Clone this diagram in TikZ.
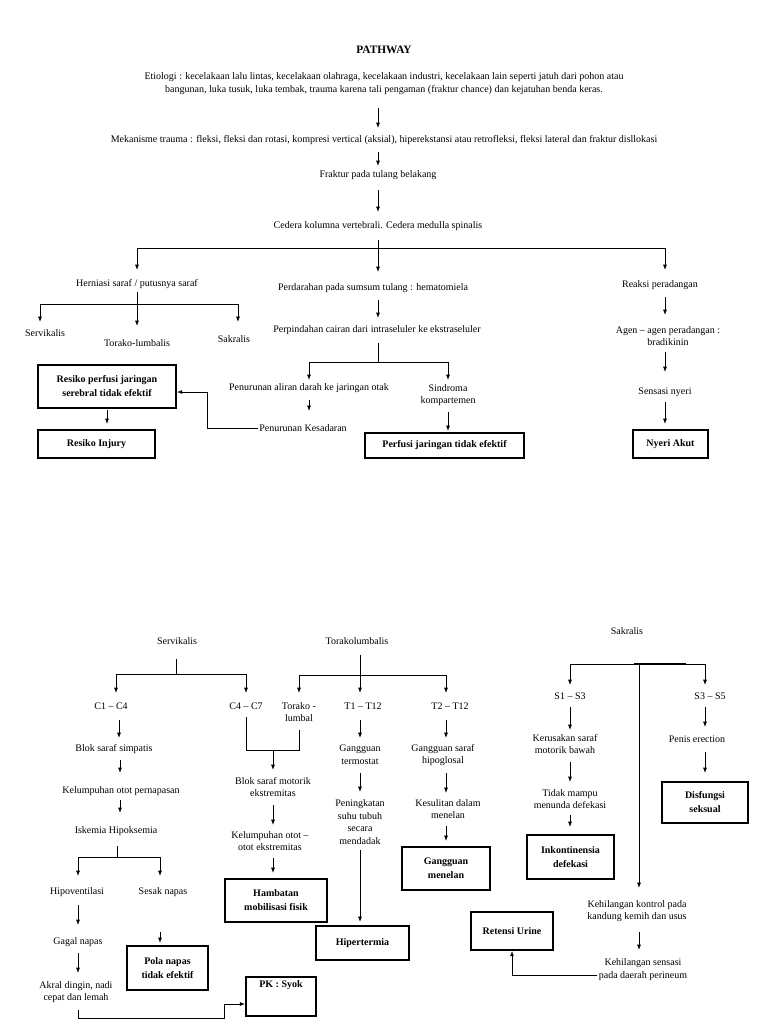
\documentclass[tikz,border=0pt]{standalone}
\usepackage{fontspec}
\setmainfont{Liberation Serif}
\usetikzlibrary{arrows.meta}
\begin{document}
\begin{tikzpicture}[x=0.75pt,y=-0.75pt,
  every node/.style={font=\fontsize{7.5}{9.6}\selectfont,align=center,inner sep=1pt},
  box/.style={draw,line width=1.3pt,font=\fontsize{7.5}{10.5}\selectfont\bfseries,inner sep=0pt},
  arr/.style={-{Latex[length=4pt,width=3pt]},line width=0.6pt},
  ln/.style={line width=0.6pt}]
\useasboundingbox (0,0) rectangle (768,1024);
% ---------- top ----------
\node[font=\fontsize{8.5}{10}\selectfont\bfseries] (title) at (384,50) {PATHWAY};
\node (etio) at (384,84) {Etiologi : kecelakaan lalu lintas, kecelakaan olahraga, kecelakaan industri, kecelakaan lain seperti jatuh dari pohon atau\\bangunan, luka tusuk, luka tembak, trauma karena tali pengaman (fraktur chance) dan kejatuhan benda keras.};
\node (mek) at (384,140) {Mekanisme trauma : fleksi, fleksi dan rotasi, kompresi vertical (aksial), hiperekstansi atau retrofleksi, fleksi lateral dan fraktur disllokasi};
\node (frak) at (378,175) {Fraktur pada tulang belakang};
\node (ced) at (378,226) {Cedera kolumna vertebrali. Cedera medulla spinalis};
\draw[arr] (378,108) -- (378,128);
\draw[arr] (378,152) -- (378,166);
\draw[arr] (378,190) -- (378,212);
\node (hern) at (137,284) {Herniasi saraf / putusnya saraf};
\node (perd) at (373,288) {Perdarahan pada sumsum tulang : hematomiela};
\node (reak) at (660,285) {Reaksi peradangan};
\draw[ln] (378,240) -- (378,248);
\draw[ln] (137,248) -- (665,248);
\draw[arr] (378,248) -- (378,272);
\draw[arr] (137,248) -- (137,270);
\draw[arr] (665,248) -- (665,270);
\node (serv1) at (45,333) {Servikalis};
\node (tor1) at (137,343) {Torako-lumbalis};
\node (sak1) at (234,339) {Sakralis};
\draw[ln] (137,292) -- (137,304);
\draw[ln] (40,304) -- (238,304);
\draw[arr] (40,304) -- (40,322);
\draw[arr] (137,304) -- (137,326);
\draw[arr] (238,304) -- (238,322);
\node (perp) at (377,330) {Perpindahan cairan dari intraseluler ke ekstraseluler};
\draw[arr] (378,300) -- (378,318);
\draw[ln] (378,343) -- (378,362);
\draw[ln] (309,362) -- (448,362);
\draw[arr] (309,362) -- (309,380);
\draw[arr] (448,362) -- (448,380);
\node (pena) at (309,388) {Penurunan aliran darah ke jaringan otak};
\node (sind) at (448,395) {Sindroma\\kompartemen};
\draw[arr] (309,400) -- (309,411);
\node (penk) at (303,428) {Penurunan Kesadaran};
\node[box,minimum width=138pt*0.75,minimum height=43pt*0.75] (rpj) at (107,386.5) {Resiko perfusi jaringan\\serebral tidak efektif};
\draw[arr] (penk.west) -- (207,428) -- (207,392) -- (rpj.east |- 0,392);
\node[box,minimum width=117pt*0.75,minimum height=28pt*0.75] (rinj) at (96.5,444) {Resiko Injury};
\draw[arr] (107,410) -- (107,424);
\node[box,minimum width=159pt*0.75,minimum height=25pt*0.75] (pjte) at (444.5,445.5) {Perfusi jaringan tidak efektif};
\draw[arr] (448,412) -- (448,431);
\node (agen) at (668,336) {Agen -- agen peradangan :\\bradikinin};
\node (sens) at (665,392) {Sensasi nyeri};
\node[box,minimum width=75pt*0.75,minimum height=28pt*0.75] (nyeri) at (670.5,444) {Nyeri Akut};
\draw[arr] (665,297) -- (665,315);
\draw[arr] (665,352) -- (665,372);
\draw[arr] (665,402) -- (665,424);
% ---------- bottom ----------
\node (serv) at (177,641) {Servikalis};
\node (torak) at (357,641) {Torakolumbalis};
\node (sakr) at (627,631) {Sakralis};
\draw[ln] (176,659) -- (176,674);
\draw[ln] (116,674) -- (246,674);
\draw[arr] (116,674) -- (116,693);
\draw[arr] (246,674) -- (246,693);
\node (c1) at (111,706) {C1 -- C4};
\node (c4) at (246,706) {C4 -- C7};
\draw[ln] (360,655) -- (360,675);
\draw[ln] (299,675) -- (446,675);
\draw[arr] (299,675) -- (299,693);
\draw[arr] (360,675) -- (360,693);
\draw[arr] (446,675) -- (446,693);
\node (tl) at (299,712) {Torako -\\lumbal};
\node (t1) at (363,706) {T1 -- T12};
\node (t2) at (450,706) {T2 -- T12};
% C1-C4 chain
\node (blok) at (114,749) {Blok saraf simpatis};
\node (kelp) at (121,791) {Kelumpuhan otot pernapasan};
\node (isk) at (116,831) {Iskemia Hipoksemia};
\draw[arr] (119,720) -- (119,738);
\draw[arr] (120,760) -- (120,773);
\draw[arr] (120,800) -- (120,813);
\draw[ln] (117,846) -- (117,857);
\draw[ln] (78,857) -- (160,857);
\draw[arr] (78,857) -- (78,876);
\draw[arr] (160,857) -- (160,876);
\node (hipo) at (77,892) {Hipoventilasi};
\node (sesak) at (163,892) {Sesak napas};
\node (gagal) at (78,942) {Gagal napas};
\node (akral) at (76,992) {Akral dingin, nadi\\cepat dan lemah};
\draw[arr] (78,905) -- (78,925);
\draw[arr] (78,953) -- (78,973);
\node[box,minimum width=81pt*0.75,minimum height=44pt*0.75] (pola) at (167.5,968) {Pola napas\\tidak efektif};
\draw[arr] (160,932) -- (160,943);
\node[box,minimum width=70pt*0.75,minimum height=36pt*0.75,anchor=north,text depth=24pt*0.75,inner sep=3pt] (pk) at (281,976) {PK : Syok};
\draw[arr] (78,1010) -- (78,1018) -- (224,1018) -- (224,1004) -- (pk.west |- 0,1004);
% C4-C7 / Torako-lumbal
\draw[ln] (246,717) -- (246,750) -- (299,750) -- (299,730);
\draw[arr] (273,750) -- (273,770);
\node (bsm) at (273,787) {Blok saraf motorik\\ekstremitas};
\node (koe) at (270,841) {Kelumpuhan otot --\\otot ekstremitas};
\draw[arr] (273,805) -- (273,825);
\draw[arr] (273,858) -- (273,873);
\node[box,minimum width=102pt*0.75,minimum height=43pt*0.75] (hamb) at (276,900.5) {Hambatan\\mobilisasi fisik};
% T1-T12
\node (gt) at (360,755) {Gangguan\\termostat};
\node (pst) at (360,822) {Peningkatan\\suhu tubuh\\secara\\mendadak};
\draw[arr] (360,720) -- (360,738);
\draw[arr] (360,773) -- (360,792);
\draw[arr] (360,850) -- (360,922);
\node[box,minimum width=93pt*0.75,minimum height=34pt*0.75] (hiper) at (362.5,943) {Hipertermia};
% T2-T12
\node (gsh) at (443,755) {Gangguan saraf\\hipoglosal};
\node (kdm) at (448,809) {Kesulitan dalam\\menelan};
\draw[arr] (446,720) -- (446,738);
\draw[arr] (446,773) -- (446,793);
\draw[arr] (446,826) -- (446,841);
\node[box,minimum width=88pt*0.75,minimum height=43pt*0.75] (gm) at (446,868.5) {Gangguan\\menelan};
% Sakralis
\draw[ln] (570,664) -- (705,664);
\draw[line width=1.4pt] (634,664) -- (686,664);
\draw[arr] (570,664) -- (570,685);
\draw[arr] (705,664) -- (705,685);
\draw[arr] (639,664) -- (639,888);
\node (s1) at (570,696) {S1 -- S3};
\node (s3) at (710,696) {S3 -- S5};
\node (ksm) at (565,744) {Kerusakan saraf\\motorik bawah};
\node (tmm) at (570,799) {Tidak mampu\\menunda defekasi};
\draw[arr] (570,707) -- (570,730);
\draw[arr] (570,762) -- (570,782);
\draw[arr] (570,815) -- (570,827);
\node[box,minimum width=87pt*0.75,minimum height=44pt*0.75] (inko) at (570.5,857) {Inkontinensia\\defekasi};
\node (pen) at (697,739) {Penis erection};
\draw[arr] (705,707) -- (705,727);
\draw[arr] (705,752) -- (705,773);
\node[box,minimum width=86pt*0.75,minimum height=41pt*0.75] (dis) at (705,802.5) {Disfungsi\\seksual};
\node (khk) at (637,911) {Kehilangan kontrol pada\\kandung kemih dan usus};
\node (khs) at (643,969.5) {Kehilangan sensasi\\pada daerah perineum};
\draw[arr] (639,932) -- (639,950);
\node[box,minimum width=82pt*0.75,minimum height=38pt*0.75] (ret) at (512,931) {Retensi Urine};
\draw[arr] (khs.west |- 0,975) -- (512,975) -- (ret.south);
\end{tikzpicture}
\end{document}
